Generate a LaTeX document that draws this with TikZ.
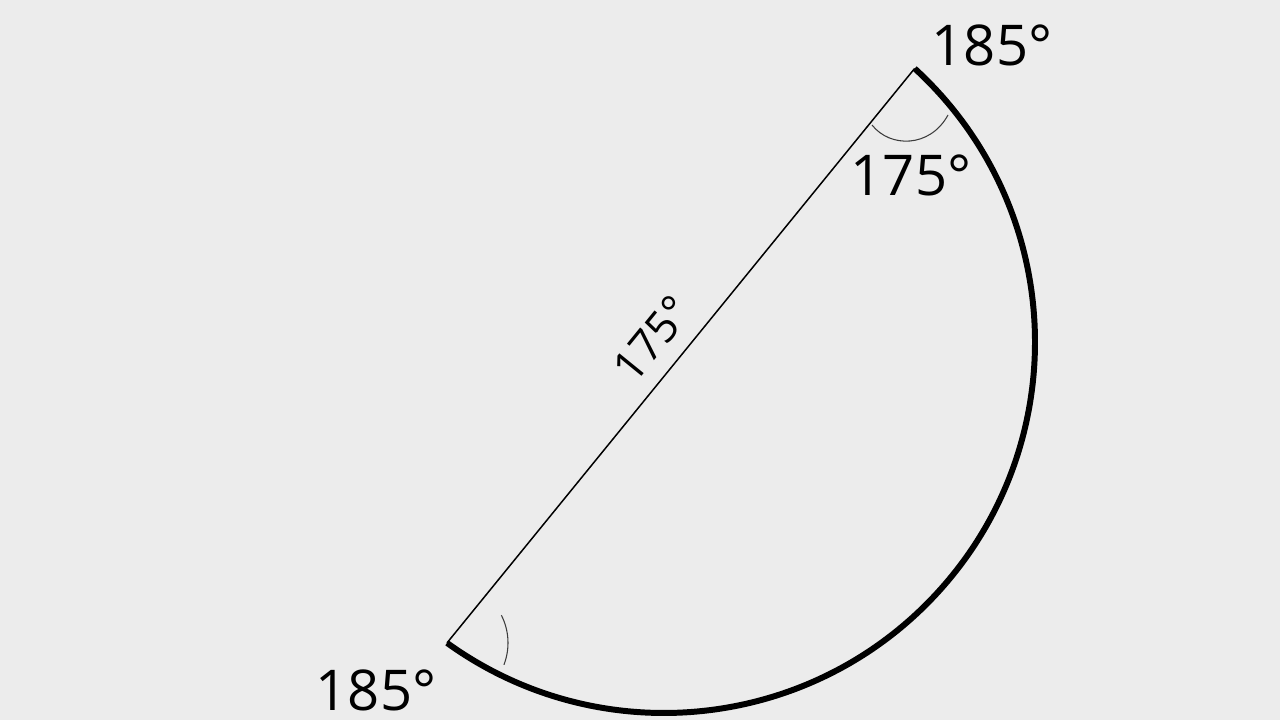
\documentclass[tikz,border=0pt]{standalone}
\usepackage{fontspec}
\setmainfont{Open Sans}
\definecolor{paper}{RGB}{236,236,236}
\definecolor{markgray}{RGB}{60,60,60}
\tikzset{gradtext/.style={font=\fontsize{32}{38}\selectfont,inner sep=0pt}}
\begin{document}
\begin{tikzpicture}[x=0.02cm,y=0.02cm]
\useasboundingbox (0,0) rectangle (1280,720);
\fill[paper] (0,0) rectangle (1280,720);
\coordinate (c) at (664,378);
\coordinate (a) at ([shift={(47.5:371)}]c);
\coordinate (b) at ([shift={(234.2:371)}]c);
\draw[line width=0.85pt] (b) -- (a);
\draw[line width=3.4pt] (a) arc[start angle=47.5,end angle=-125.8,radius=371];
\draw[draw=markgray,line width=0.6pt] (872,595) .. controls (890,572) and (930,572) .. (948,605);
\draw[draw=markgray,line width=0.6pt] ([shift={(27:61)}]b) arc[start angle=27,end angle=-21,radius=61];
\node[gradtext] (topout) at (992,675) {185°};
\node[gradtext] (topin) at (911,545) {175°};
\node[gradtext,font=\fontsize{25}{30}\selectfont,rotate=50.9] (chord) at (652,381) {175°};
\node[gradtext] (botout) at (376,30) {185°};
\end{tikzpicture}
\end{document}
